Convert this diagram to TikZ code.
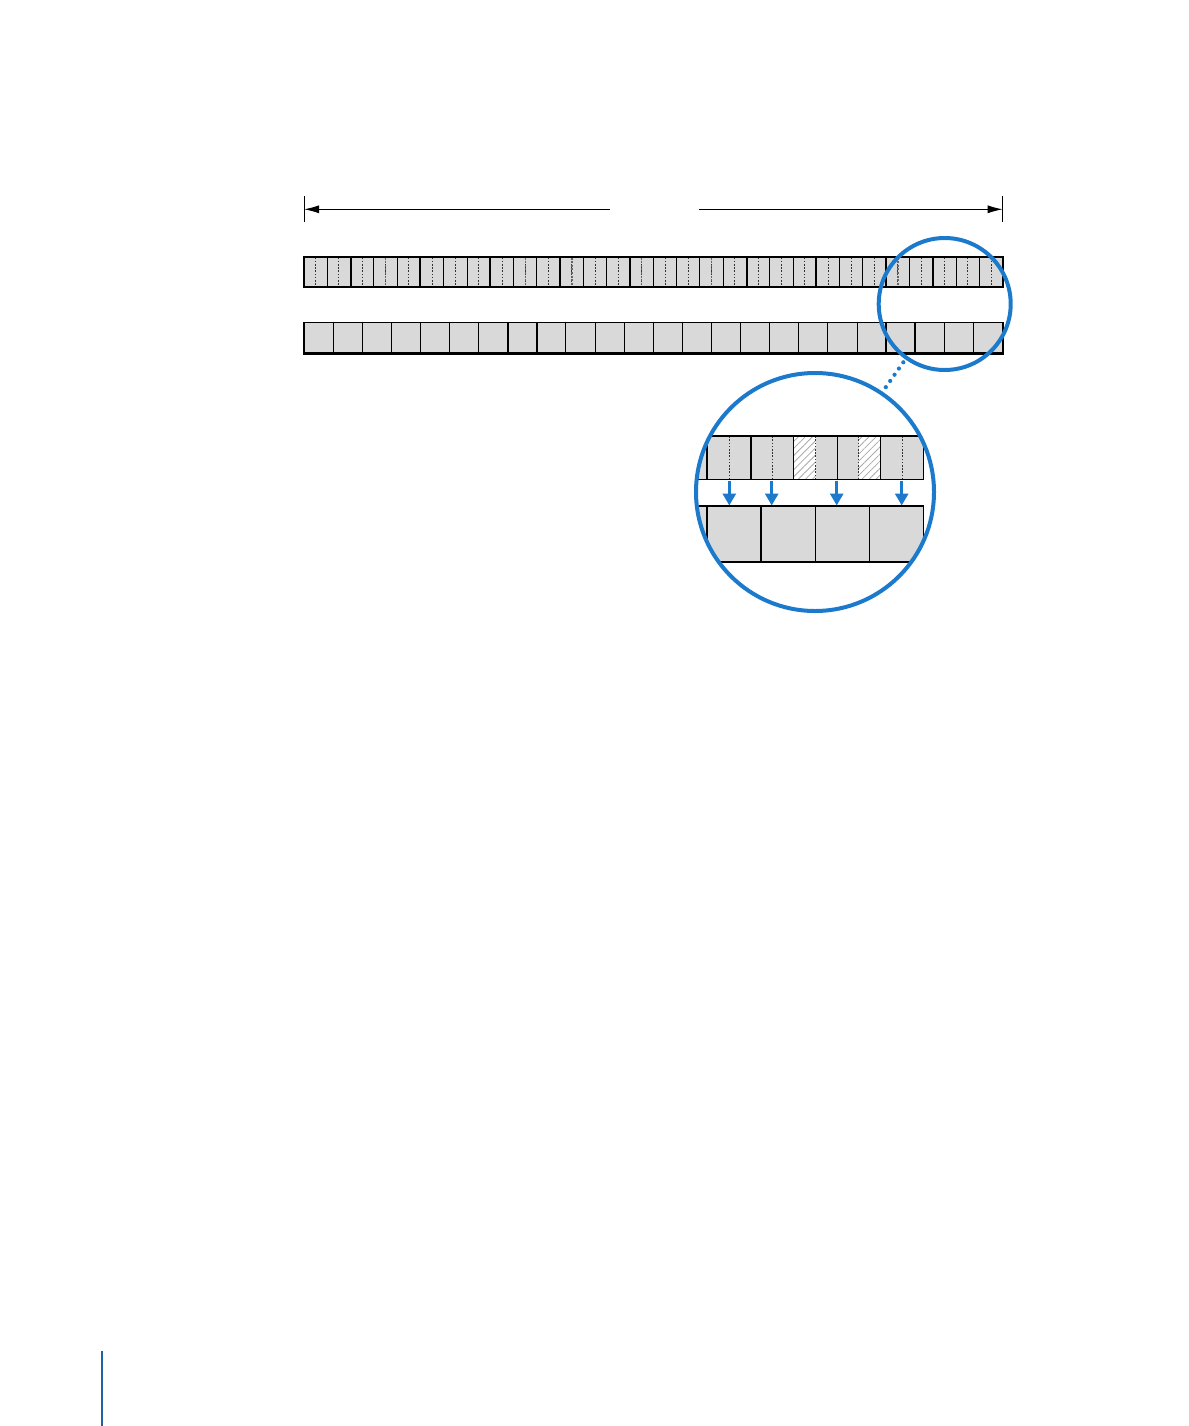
\documentclass[tikz,border=0pt]{standalone}
\usetikzlibrary{arrows.meta,patterns.meta}
\definecolor{cellgray}{HTML}{D9D9D9}
\definecolor{zoomblue}{HTML}{1B7ACC}
\definecolor{rulerblue}{HTML}{1F63A6}
\definecolor{hatchgray}{HTML}{AAAAAA}
\begin{document}
\begin{tikzpicture}[x=1pt,y=-1pt,
  thinrule/.style={line width=1pt},
  thickrule/.style={line width=2pt},
  midline/.style={draw=black!80, line width=0.9pt, dash pattern=on 1.6pt off 1.6pt},
  darkmid/.style={draw=black!60, line width=1.4pt, dash pattern=on 2pt off 1.6pt},
  dimline/.style={line width=1pt},
  zoomring/.style={draw=zoomblue, line width=4pt},
  movearrow/.style={draw=zoomblue, line width=3.3pt, -{Triangle[length=12pt,width=13pt]}},
  dotlink/.style={draw=zoomblue, line width=4.2pt, line cap=round, dash pattern=on 0pt off 7.6pt},
  hatch/.style={fill=white, postaction={pattern={Lines[angle=45,distance=5pt,line width=0.8pt]}, pattern color=hatchgray}}
]
\path[use as bounding box] (0,0) rectangle (1188,1426);

% ---------- dimension line ----------
\coordinate (dimL) at (304,209.3);
\coordinate (dimR) at (1002.7,209.3);
\coordinate (gapL) at (610,209.3);
\coordinate (gapR) at (699,209.3);
\draw[dimline] (304,196) -- (304,222);
\draw[dimline] (1002.7,196) -- (1002.7,222);
\draw[dimline, {Latex[length=15pt,width=8pt]}-] (dimL) -- (gapL);
\draw[dimline, -{Latex[length=15pt,width=8pt]}] (gapR) -- (dimR);

% ---------- top row: 30 cells ----------
\def\cwa{23.29}
\fill[cellgray] (304,257) rectangle (1002.7,287);
\foreach \i in {0,...,29}{
  \draw[midline] ({304+(\i+0.5)*\cwa},257.5) -- ({304+(\i+0.5)*\cwa},286.5);
}
\foreach \i in {3,9,11,14,17,25}{
  \draw[darkmid] ({304+(\i+0.5)*\cwa},257.5) -- ({304+(\i+0.5)*\cwa},286.5);
}
\foreach \i in {1,3,4,6,7,9,10,12,13,15,16,17,18,20,21,23,24,26,28,29}{
  \draw[thinrule] ({304+\i*\cwa},257) -- ({304+\i*\cwa},287);
}
\foreach \i in {0,2,5,8,11,14,19,22,25,27,30}{
  \draw[thickrule] ({304+\i*\cwa},257) -- ({304+\i*\cwa},287);
}
\draw[line width=1.6pt] (303,257) -- (1003.7,257);
\draw[line width=1.6pt] (303,287) -- (1003.7,287);

% ---------- bottom row: 24 cells ----------
\def\cwb{29.11}
\fill[cellgray] (304,322.3) rectangle (1002.7,353.3);
\foreach \i in {1,2,3,4,5,6,9,10,11,12,13,14,15,16,17,18,19,22,23}{
  \draw[thinrule] ({304+\i*\cwb},322.3) -- ({304+\i*\cwb},353.3);
}
\foreach \i in {0,7,8,20,21,24}{
  \draw[thickrule] ({304+\i*\cwb},322.3) -- ({304+\i*\cwb},353.3);
}
\draw[line width=1.2pt] (303,322.3) -- (1003.7,322.3);
\draw[line width=2.6pt] (303,353.3) -- (1003.7,353.3);

% ---------- small ring ----------
\coordinate (smallc) at (944.7,304);
\draw[zoomring] (smallc) circle[radius=66pt];

% ---------- dotted link ----------
\coordinate (linkA) at (903.3,362.3);
\coordinate (linkB) at (885.7,387.3);
\draw[dotlink] (linkA) -- (linkB);

% ---------- magnified view ----------
\coordinate (bigc) at (815,492);
\def\cwc{43.3}
\def\cwd{54.0}
\begin{scope}
  \clip (bigc) circle[radius=119pt];
  % top magnified row
  \fill[cellgray] (600,435.7) rectangle (923.3,479.3);
  \path[hatch] ({707.3+2*\cwc},435.7) rectangle ({707.3+2.5*\cwc},479.3);
  \path[hatch] ({707.3+3.5*\cwc},435.7) rectangle ({707.3+4*\cwc},479.3);
  \foreach \i in {-1,0,1,2,3,4}{
    \draw[midline] ({707.3+(\i+0.5)*\cwc},436.2) -- ({707.3+(\i+0.5)*\cwc},478.8);
  }
  \foreach \i in {-1,2,3,4}{
    \draw[thinrule] ({707.3+\i*\cwc},435.7) -- ({707.3+\i*\cwc},479.3);
  }
  \foreach \i in {0,1}{
    \draw[thickrule] ({707.3+\i*\cwc},435.7) -- ({707.3+\i*\cwc},479.3);
  }
  \draw[line width=1.6pt] (600,435.7) -- (924,435.7) (600,479.3) -- (924,479.3);
  \draw[line width=1.6pt] (923.3,435.7) -- (923.3,479.3);
  % bottom magnified row
  \fill[cellgray] (600,506) rectangle (923.3,561.7);
  \foreach \i in {-1,2,3,4}{
    \draw[thinrule] ({707.3+\i*\cwd},506) -- ({707.3+\i*\cwd},561.7);
  }
  \foreach \i in {0,1}{
    \draw[thickrule] ({707.3+\i*\cwd},506) -- ({707.3+\i*\cwd},561.7);
  }
  \draw[line width=1.2pt] (600,506) -- (924,506);
  \draw[line width=2.4pt] (600,561.7) -- (924,561.7);
  \draw[line width=1.4pt] (923.3,506) -- (923.3,561.7);
  % arrows
  \coordinate (from1) at (729.3,480.5);  \coordinate (to1) at (729.3,505.5);
  \coordinate (from2) at (771.7,480.5);  \coordinate (to2) at (771.7,505.5);
  \coordinate (from3) at (836.7,480.5);  \coordinate (to3) at (836.7,505.5);
  \coordinate (from4) at (901.7,480.5);  \coordinate (to4) at (901.7,505.5);
  \draw[movearrow] (from1) -- (to1);
  \draw[movearrow] (from2) -- (to2);
  \draw[movearrow] (from3) -- (to3);
  \draw[movearrow] (from4) -- (to4);
\end{scope}
\draw[zoomring] (bigc) circle[radius=119pt];

% ---------- page rule ----------
\coordinate (ruleT) at (101.7,1351);
\coordinate (ruleB) at (101.7,1426);
\draw[rulerblue, line width=2pt] (ruleT) -- (ruleB);
\end{tikzpicture}
\end{document}
